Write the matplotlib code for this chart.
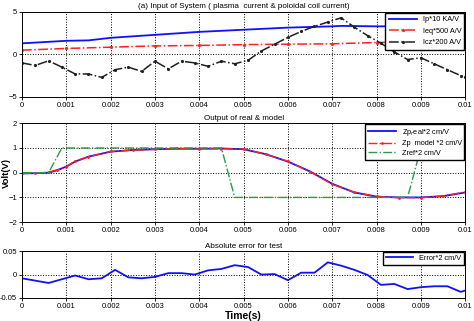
import numpy as np
import matplotlib.pyplot as plt

plt.rcParams['font.family'] = ['Liberation Sans', 'DejaVu Sans']

# ---- panel 1: inputs ----
t_in = np.arange(34) * 0.0003
t_in = np.append(t_in, 0.01)

ip_t = [0, 0.001, 0.0015, 0.002, 0.003, 0.004, 0.005, 0.006, 0.007, 0.0072, 0.008, 0.01]
ip_v = [1.3, 1.6, 1.65, 1.95, 2.3, 2.65, 2.9, 3.15, 3.3, 3.35, 3.3, 3.3]

ieq_t = [0, 0.001, 0.002, 0.003, 0.004, 0.005, 0.006, 0.007, 0.008, 0.009, 0.01]
ieq_v = [0.5, 0.7, 0.85, 1.0, 1.05, 1.15, 1.2, 1.25, 1.4, 1.5, 1.6]

icz_v = [-1.0, -1.3, -0.75, -1.5, -2.3, -2.3, -2.7, -1.8, -1.5, -2.0,
         -0.8, -1.7, -0.8, -1.0, -1.4, -0.8, -1.1, -0.7, 0.4, 1.2,
         2.0, 2.7, 3.3, 3.8, 4.3, 3.2, 2.2, 1.3, 0.3, -0.6,
         -0.4, -1.1, -1.8, -2.5, -2.6]

# ---- panel 2: outputs ----
zp_t = [0, 0.0003, 0.0006, 0.0008, 0.001, 0.0012, 0.0015, 0.002, 0.0025, 0.003,
        0.0035, 0.004, 0.0045, 0.005, 0.0055, 0.006, 0.0065, 0.007, 0.0075,
        0.008, 0.0085, 0.009, 0.0095, 0.01]
zp_real = [-0.03, -0.02, 0.0, 0.1, 0.25, 0.45, 0.65, 0.85, 0.92, 0.95,
           0.97, 0.97, 0.98, 0.95, 0.75, 0.45, 0.05, -0.45, -0.8,
           -0.97, -1.0, -1.0, -0.95, -0.8]
zp_model = [-0.03, -0.02, 0.02, 0.12, 0.24, 0.47, 0.64, 0.86, 0.91, 0.94,
            0.98, 0.96, 0.97, 0.96, 0.74, 0.46, 0.04, -0.47, -0.79,
            -0.96, -1.01, -1.01, -0.94, -0.78]

zref_t = [0, 0.0006, 0.0009, 0.0045, 0.0048, 0.0087, 0.009, 0.01]
zref_v = [0, 0, 1, 1, -1, -1, 1, 1]

# ---- panel 3: error ----
err_v = [-0.008, -0.013, -0.018, -0.01, -0.002, -0.01, -0.008, 0.01, -0.006, -0.008,
         -0.005, 0.003, 0.003, 0.0, 0.009, 0.012, 0.02, 0.016, 0.0, 0.001,
         -0.012, 0.004, 0.004, 0.026, 0.019, 0.01, -0.001, -0.022, -0.02, -0.031,
         -0.027, -0.025, -0.025, -0.037, -0.034]

xticks = np.arange(0, 0.0101, 0.001)
xticklabels = ['0'] + ['%g' % v for v in xticks[1:]]

fig = plt.figure(figsize=(4.74, 3.21), dpi=100)
ax1 = fig.add_axes([0.0464, 0.698, 0.935, 0.265])
ax2 = fig.add_axes([0.0464, 0.308, 0.935, 0.308])
ax3 = fig.add_axes([0.0464, 0.0717, 0.935, 0.146])

fs = 5.5

def style(ax, ylim, yticks, title):
    ax.set_xlim(0, 0.01)
    ax.set_ylim(*ylim)
    ax.set_xticks(xticks)
    ax.set_xticklabels(xticklabels)
    ax.set_yticks(yticks)
    ax.tick_params(labelsize=fs, length=2, width=0.6, pad=1.5)
    ax.grid(True, color='black', linestyle=':', linewidth=0.7)
    ax.set_title(title, fontsize=5.8, pad=2.5)
    for s in ax.spines.values():
        s.set_linewidth(0.7)

leg_kw = dict(loc='upper right', fontsize=5.3, frameon=True, fancybox=False,
              edgecolor='black', framealpha=1, handlelength=3.8,
              borderaxespad=0.1)

ax1.plot(ip_t, ip_v, color='#1010ff', lw=1.3, label='Ip*10 KA/V')
ax1.plot(ieq_t, ieq_v, color='#ff2020', lw=1.1, ls='-.', marker='.', ms=2.5,
         label='Ieq*500 A/V')
ax1.plot(t_in, icz_v, color='#202020', lw=1.1, ls='-.', marker='.', ms=2.5,
         label='Icz*200 A/V')
style(ax1, (-5, 5), [-5, 0, 5], '(a) Input of System ( plasma  current & poloidal coil current)')
ax1.legend(borderpad=0.45, labelspacing=0.6, **leg_kw)

ax2.plot(zp_t, zp_real, color='#1010ff', lw=1.3, label=r'Zp$_r$eal*2 cm/V')
ax2.plot(zp_t, zp_model, color='#ff2020', lw=1.0, ls='-.', marker='.', ms=2,
         label='Zp  model *2 cm/V')
ax2.plot(zref_t, zref_v, color='#2a9a4a', lw=1.0, ls='-.', label='Zref*2 cm/V')
style(ax2, (-2, 2), [-2, -1, 0, 1, 2], 'Output of real & model')
ax2.set_ylabel('Volt(V)', fontsize=6.8, fontweight='bold')
ax2.yaxis.set_label_coords(-0.026, 0.5)
ax2.legend(borderpad=0.35, labelspacing=0.35, **leg_kw)

ax3.plot(t_in, err_v, color='#1010ff', lw=1.3, label='Error*2 cm/V')
style(ax3, (-0.05, 0.05), [-0.05, 0, 0.05], 'Absolute error for test')
ax3.set_yticklabels(['-0.05', '0', '0.05'])
ax3.set_xlabel('Time(s)', fontsize=7.5, fontweight='bold', labelpad=1)
ax3.legend(borderpad=0.4, **leg_kw)

fig.savefig('out.png', dpi=100)
